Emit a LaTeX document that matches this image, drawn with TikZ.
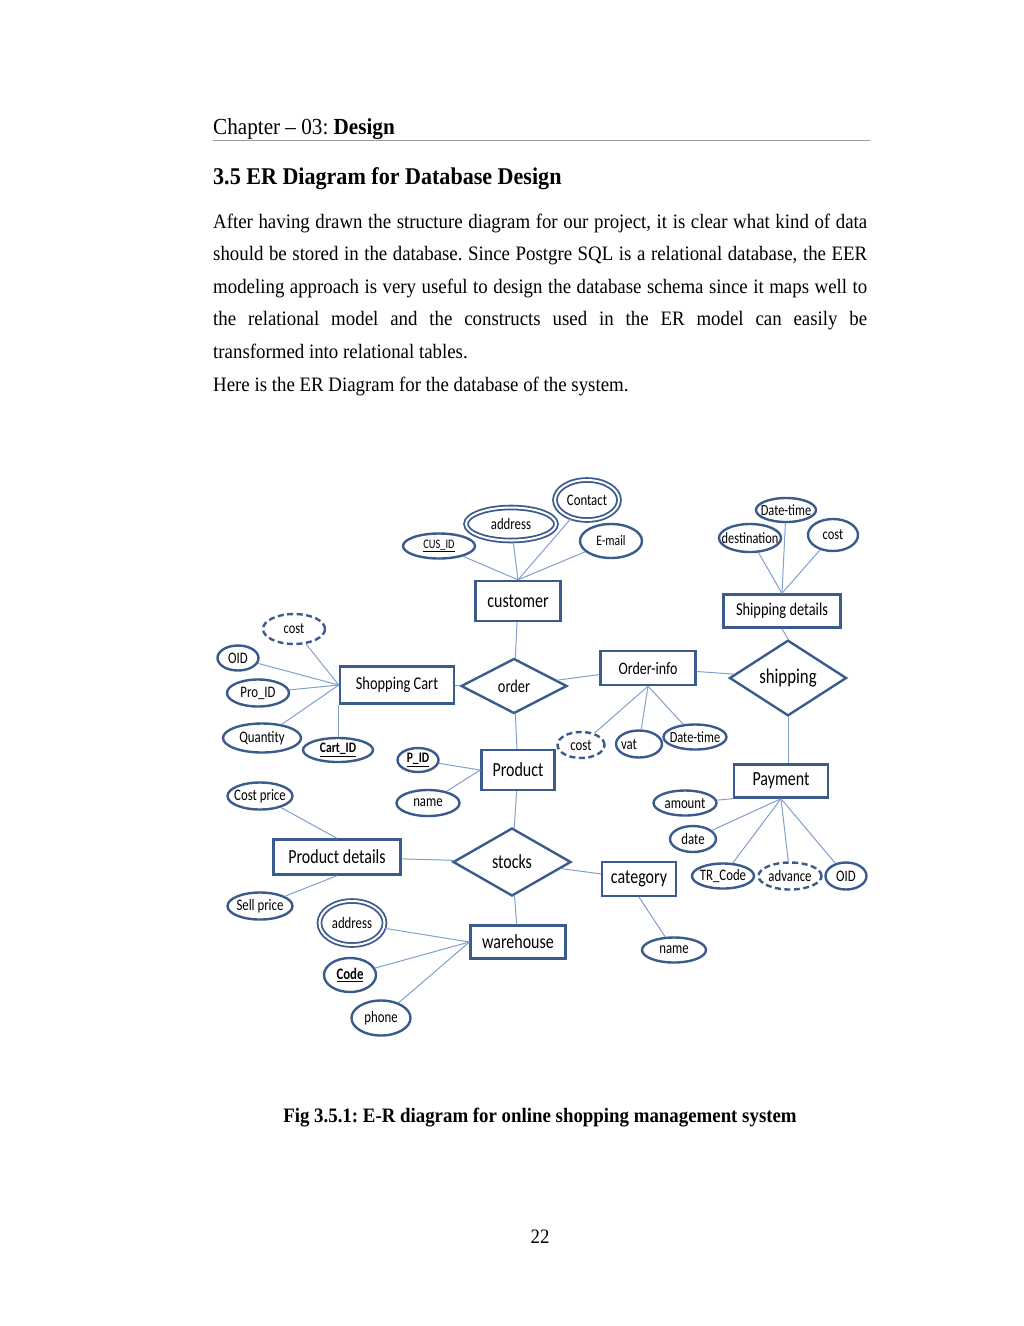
\documentclass[tikz,border=0pt]{standalone}
\usepackage{fontspec}
\setmainfont{Liberation Serif}[FakeStretch=0.92]
\newfontfamily\erfont{Carlito}[FakeStretch=0.8]
\usepackage{tikz}
\usetikzlibrary{shapes.geometric}
\usepackage{xcolor}
\definecolor{erblue}{HTML}{3B5B8C}
\definecolor{erlink}{HTML}{82A0CC}
\definecolor{rulegray}{HTML}{9A9A9A}
\newcommand\ersize[1]{\erfont\fontsize{#1}{#1}\selectfont}
\frenchspacing

\tikzset{
  entity/.style={rectangle, draw=erblue, line width=2.4pt, inner sep=0pt, font=\ersize{20}},
  relation/.style={diamond, draw=erblue, line width=2.4pt, inner sep=0pt, font=\ersize{20}},
  attrib/.style={ellipse, draw=erblue, line width=2.4pt, inner sep=0pt, font=\ersize{16},
    execute at begin node=\hbox to 0pt\bgroup\hss, execute at end node=\hss\egroup},
  multiattr/.style={attrib, double=white, double distance=2pt, line width=1.8pt},
  derivedattr/.style={attrib, dash pattern=on 6pt off 3.5pt},
  link/.style={draw=erlink, line width=1pt},
}

\begin{document}
\begin{tikzpicture}[x=1pt, y=-1pt]
  \path[use as bounding box, fill=white] (0,0) rectangle (1024,1326);

  % page text
  \node[anchor=base west, inner sep=0pt, font=\fontsize{23}{27}\selectfont] (chap) at (213,134) {Chapter – 03: \textbf{Design}};
  \draw[rulegray, line width=0.8pt] (213,140.5) -- (870,140.5);
  \node[anchor=base west, inner sep=0pt, font=\bfseries\fontsize{24}{28}\selectfont] (title) at (213,184) {3.5 ER Diagram for Database Design};
  \node[anchor=base west, inner sep=0pt, text width=654pt, align=justify, font=\fontsize{20.5}{32.6}\selectfont] (para) at (213,228)
    {After having drawn the structure diagram for our project, it is clear what kind of data\linebreak
     should be stored in the database. Since Postgre SQL is a relational database, the EER\linebreak
     modeling approach is very useful to design the database schema since it maps well to\linebreak
     the relational model and the constructs used in the ER model can easily be\linebreak
     transformed into relational tables.};
  \node[anchor=base west, inner sep=0pt, font=\fontsize{20.5}{24}\selectfont] (intro) at (213,391) {Here is the ER Diagram for the database of the system.};

  % entities
  \node[entity, minimum width=85pt, minimum height=40pt] (customer) at (518,601) {customer};
  \node[entity, minimum width=117pt, minimum height=33pt, font=\ersize{18}] (shipdet) at (782,611) {Shipping details};
  \node[entity, minimum width=114pt, minimum height=37pt, font=\ersize{18}] (cart) at (397,685) {Shopping Cart};
  \node[entity, minimum width=95pt, minimum height=34pt, font=\ersize{17.5}] (orderinfo) at (648,668) {Order-info};
  \node[entity, minimum width=73pt, minimum height=40pt] (product) at (518,770) {Product};
  \node[entity, minimum width=94pt, minimum height=33pt] (payment) at (781,781) {Payment};
  \node[entity, minimum width=127pt, minimum height=35pt] (proddet) at (337,857) {Product details};
  \node[entity, minimum width=74pt, minimum height=34pt] (category) at (639,879) {category};
  \node[entity, minimum width=95pt, minimum height=33pt] (warehouse) at (518,942) {warehouse};

  % relationships
  \node[relation, minimum width=106pt, minimum height=55pt, font=\ersize{18}] (order) at (514,686) {order};
  \node[relation, minimum width=117pt, minimum height=55pt, font=\ersize{21}] (shipping) at (788,678) {shipping};
  \node[relation, minimum width=118pt, minimum height=68pt] (stocks) at (512,862) {stocks};

  % attributes of customer
  \node[attrib, minimum width=72pt, minimum height=25pt, font=\ersize{13}] (cusid) at (439,546) {\underline{CUS\_ID}};
  \node[multiattr, minimum width=90pt, minimum height=33pt] (custaddr) at (511,524) {address};
  \node[multiattr, minimum width=64pt, minimum height=40pt] (contact) at (587,500) {Contact};
  \node[attrib, minimum width=62pt, minimum height=34pt, font=\ersize{14.5}] (email) at (611,541) {E-mail};

  % attributes of shipping details
  \node[attrib, minimum width=60pt, minimum height=24pt, font=\ersize{15.5}] (sdtime) at (786,510) {Date-time};
  \node[attrib, minimum width=62pt, minimum height=28pt, font=\ersize{15.5}] (sddest) at (750,538) {destination};
  \node[attrib, minimum width=50pt, minimum height=32pt, font=\ersize{15.5}] (sdcost) at (833,535) {cost};

  % attributes of shopping cart
  \node[derivedattr, minimum width=62pt, minimum height=30pt, font=\ersize{15.5}] (ccost) at (294,629) {cost};
  \node[attrib, minimum width=41pt, minimum height=25pt] (coid) at (238,658) {OID};
  \node[attrib, minimum width=62pt, minimum height=27pt] (cproid) at (258,693) {Pro\_ID};
  \node[attrib, minimum width=78pt, minimum height=29pt] (cqty) at (262,738) {Quantity};
  \node[attrib, minimum width=70pt, minimum height=24pt, font=\ersize{14.5}] (ccartid) at (338,750) {\underline{\bfseries Cart\_ID}};

  % attributes of order-info
  \node[derivedattr, minimum width=47pt, minimum height=26pt] (ocost) at (581,745) {cost};
  \node[attrib, minimum width=46pt, minimum height=27pt] (ovat) at (639,744) {vat\hspace*{20pt}};
  \node[attrib, minimum width=63pt, minimum height=25pt, font=\ersize{15.5}] (odtime) at (695,737) {Date-time};

  % attributes of product
  \node[attrib, minimum width=41pt, minimum height=24pt, font=\ersize{14.5}] (pid) at (418,760) {\underline{\bfseries P\_ID}};
  \node[attrib, minimum width=63pt, minimum height=26pt] (pname) at (428,803) {name};

  % attributes of product details
  \node[attrib, minimum width=65pt, minimum height=27pt] (costprice) at (260,796) {Cost price};
  \node[attrib, minimum width=65pt, minimum height=27pt] (sellprice) at (260,906) {Sell price};

  % attributes of warehouse
  \node[multiattr, minimum width=65pt, minimum height=44pt] (waddr) at (352,923) {address};
  \node[attrib, minimum width=52pt, minimum height=34pt] (wcode) at (350,975) {\underline{\bfseries Code}};
  \node[attrib, minimum width=59pt, minimum height=35pt] (wphone) at (381,1018) {phone};

  % attribute of category
  \node[attrib, minimum width=64pt, minimum height=25pt] (cname) at (674,950) {name};

  % attributes of payment
  \node[attrib, minimum width=63pt, minimum height=25pt] (pamount) at (685,803) {amount};
  \node[attrib, minimum width=46pt, minimum height=26pt] (pdate) at (693,839) {date};
  \node[attrib, minimum width=62pt, minimum height=25pt] (ptrcode) at (723,876) {TR\_Code};
  \node[derivedattr, minimum width=63pt, minimum height=27pt] (padvance) at (790,876) {advance};
  \node[attrib, minimum width=41pt, minimum height=27pt] (poid) at (846,876) {OID};

  % relationship lines
  \draw[link] (customer) -- (order);
  \draw[link] (cart) -- (order);
  \draw[link] (order) -- (orderinfo);
  \draw[link] (order) -- (product);
  \draw[link] (orderinfo) -- (shipping);
  \draw[link] (shipping.north) -- (shipdet.south);
  \draw[link] (shipping.south) -- (shipping.south |- payment.north);
  \draw[link] (product) -- (stocks);
  \draw[link] (proddet) -- (stocks);
  \draw[link] (stocks) -- (warehouse);
  \draw[link] (stocks) -- (category);

  % attribute lines
  \foreach \a in {cusid,custaddr,contact,email}
    \draw[link] (customer.north) -- (\a);
  \foreach \a in {sdtime,sddest,sdcost}
    \draw[link] (shipdet.north) -- (\a);
  \foreach \a in {ccost,coid,cproid,cqty}
    \draw[link] (cart.west) -- (\a);
  \draw[link] (ccartid.north) -- (ccartid.north |- cart.south);
  \foreach \a in {ocost,ovat,odtime}
    \draw[link] (orderinfo.south) -- (\a);
  \foreach \a in {pid,pname}
    \draw[link] (product.west) -- (\a);
  \draw[link] (proddet.north) -- (costprice);
  \draw[link] (proddet.south) -- (sellprice);
  \foreach \a in {waddr,wcode,wphone}
    \draw[link] (warehouse.west) -- (\a);
  \draw[link] (category.south) -- (cname);
  \draw[link] (payment.south west) -- (pamount);
  \foreach \a in {pdate,ptrcode,padvance,poid}
    \draw[link] (payment.south) -- (\a);

  % caption and page number
  \node[anchor=base, inner sep=0pt, font=\bfseries\fontsize{20.5}{24}\selectfont] (caption) at (540,1122) {Fig 3.5.1: E-R diagram for online shopping management system};
  \node[anchor=base, inner sep=0pt, font=\fontsize{20.5}{24}\selectfont] (pageno) at (540,1243) {22};
\end{tikzpicture}
\end{document}
